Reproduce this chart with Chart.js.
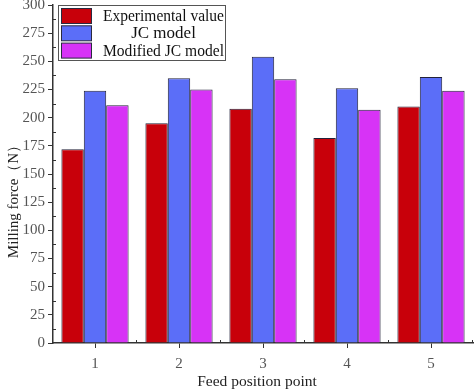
<!DOCTYPE html>
<html>
<head>
<meta charset="utf-8">
<script src="https://cdn.jsdelivr.net/npm/chart.js@4.4.1/dist/chart.umd.min.js"></script>
<style>
  html, body { margin: 0; padding: 0; background: #fff; }
  #wrap { width: 474px; height: 391px; position: relative; }
</style>
</head>
<body>
<div id="wrap"><canvas id="canvas"></canvas></div>
<script>
// data
var categories = ['1', '2', '3', '4', '5'];
var seriesNames = ['Experimental value', 'JC model', 'Modified JC model'];
var experimental = [172, 195, 208, 182, 210];
var jcModel = [224, 235, 254, 226, 236];
var modifiedJc = [211, 225, 234, 207, 224];
var yTicks = [0, 25, 50, 75, 100, 125, 150, 175, 200, 225, 250, 275, 300];
var yTitle = 'Milling force（N）';
var xTitle = 'Feed position point';

var colors = ['#c8000a', '#5b6ef8', '#d733f6'];
var serif = '"Liberation Serif", "Times New Roman", serif';
var axisColor = '#333';

// minor ticks, axis titles and boxed legend, drawn on top of the chart
var extras = {
  id: 'extras',
  afterDraw: function(chart) {
    var ctx = chart.ctx;
    var xs = chart.scales.x, ys = chart.scales.y;
    ctx.save();
    ctx.strokeStyle = axisColor;
    ctx.lineWidth = 1;
    // y minor ticks (inward)
    for (var i = 0; i < yTicks.length - 1; i++) {
      var y = Math.round(ys.getPixelForValue((yTicks[i] + yTicks[i + 1]) / 2)) + 0.5;
      ctx.beginPath();
      ctx.moveTo(xs.left, y);
      ctx.lineTo(xs.left + 3, y);
      ctx.stroke();
    }
    // x minor ticks at category edges (inward)
    var w = (xs.right - xs.left) / categories.length;
    for (var k = 1; k <= categories.length; k++) {
      var x = Math.round(xs.left + k * w) - 0.5;
      ctx.beginPath();
      ctx.moveTo(x, ys.bottom);
      ctx.lineTo(x, ys.bottom - 3);
      ctx.stroke();
    }

    // axis titles (a little off-centre in the original)
    ctx.font = '15.5px ' + serif;
    ctx.fillStyle = '#222';
    ctx.textAlign = 'center';
    ctx.textBaseline = 'middle';
    ctx.fillText(xTitle, 257, 382);
    ctx.save();
    ctx.translate(14, 198);
    ctx.rotate(-Math.PI / 2);
    ctx.font = '15px ' + serif;
    ctx.fillText(yTitle, 0, 0);
    ctx.restore();

    // legend box
    var bx = 58.5, by = 5.5, bw = 167, bh = 55;
    ctx.fillStyle = '#fff';
    ctx.fillRect(bx, by, bw, bh);
    ctx.strokeStyle = '#555';
    ctx.strokeRect(bx, by, bw, bh);
    ctx.font = '17px ' + serif;
    ctx.textBaseline = 'middle';
    ctx.textAlign = 'center';
    var rowH = 17.3;
    for (var r = 0; r < seriesNames.length; r++) {
      var sy = 8 + r * rowH;
      ctx.fillStyle = colors[r];
      ctx.fillRect(61.5, sy + 0.5, 30, 15);
      ctx.strokeStyle = '#2a2a40';
      ctx.strokeRect(61.5, sy + 0.5, 30, 15);
      ctx.fillStyle = '#111';
      ctx.fillText(seriesNames[r], 163.5, sy + 8.5, 121);
    }
    ctx.restore();
  }
};

var ctx = document.getElementById('canvas').getContext('2d');

window.myBar = new Chart(ctx, {
  type: 'bar',
  data: {
    labels: categories,
    datasets: [
      { label: seriesNames[0], data: experimental, backgroundColor: colors[0] },
      { label: seriesNames[1], data: jcModel, backgroundColor: colors[1] },
      { label: seriesNames[2], data: modifiedJc, backgroundColor: colors[2] }
    ]
  },
  options: {
    responsive: true,
    maintainAspectRatio: false,
    animation: false,
    layout: { padding: { top: 5, right: 1, left: 0, bottom: 0 } },
    datasets: {
      bar: {
        categoryPercentage: 0.8,
        barPercentage: 1.0,
        borderWidth: 1,
        borderColor: '#22223a',
        borderSkipped: 'bottom'
      }
    },
    plugins: {
      legend: { display: false },
      tooltip: { enabled: false }
    },
    scales: {
      x: {
        grid: {
          offset: false,
          drawOnChartArea: false,
          drawTicks: true,
          tickLength: 5,
          color: axisColor,
          lineWidth: 1
        },
        border: { color: axisColor, width: 1.5 },
        ticks: {
          color: '#555',
          font: { family: serif, size: 15 },
          padding: 7
        },
        afterFit: function(s) { s.height = 48; }
      },
      y: {
        min: 0,
        max: 300,
        ticks: {
          stepSize: 25,
          color: '#555',
          font: { family: serif, size: 15 },
          padding: 3
        },
        grid: {
          drawOnChartArea: false,
          drawTicks: true,
          tickLength: 5,
          color: axisColor,
          lineWidth: 1
        },
        border: { color: axisColor, width: 1.5 },
        afterFit: function(s) { s.width = 53; s.paddingTop = 0; s.paddingBottom = 0; }
      }
    }
  },
  plugins: [extras]
});
</script>
</body>
</html>
